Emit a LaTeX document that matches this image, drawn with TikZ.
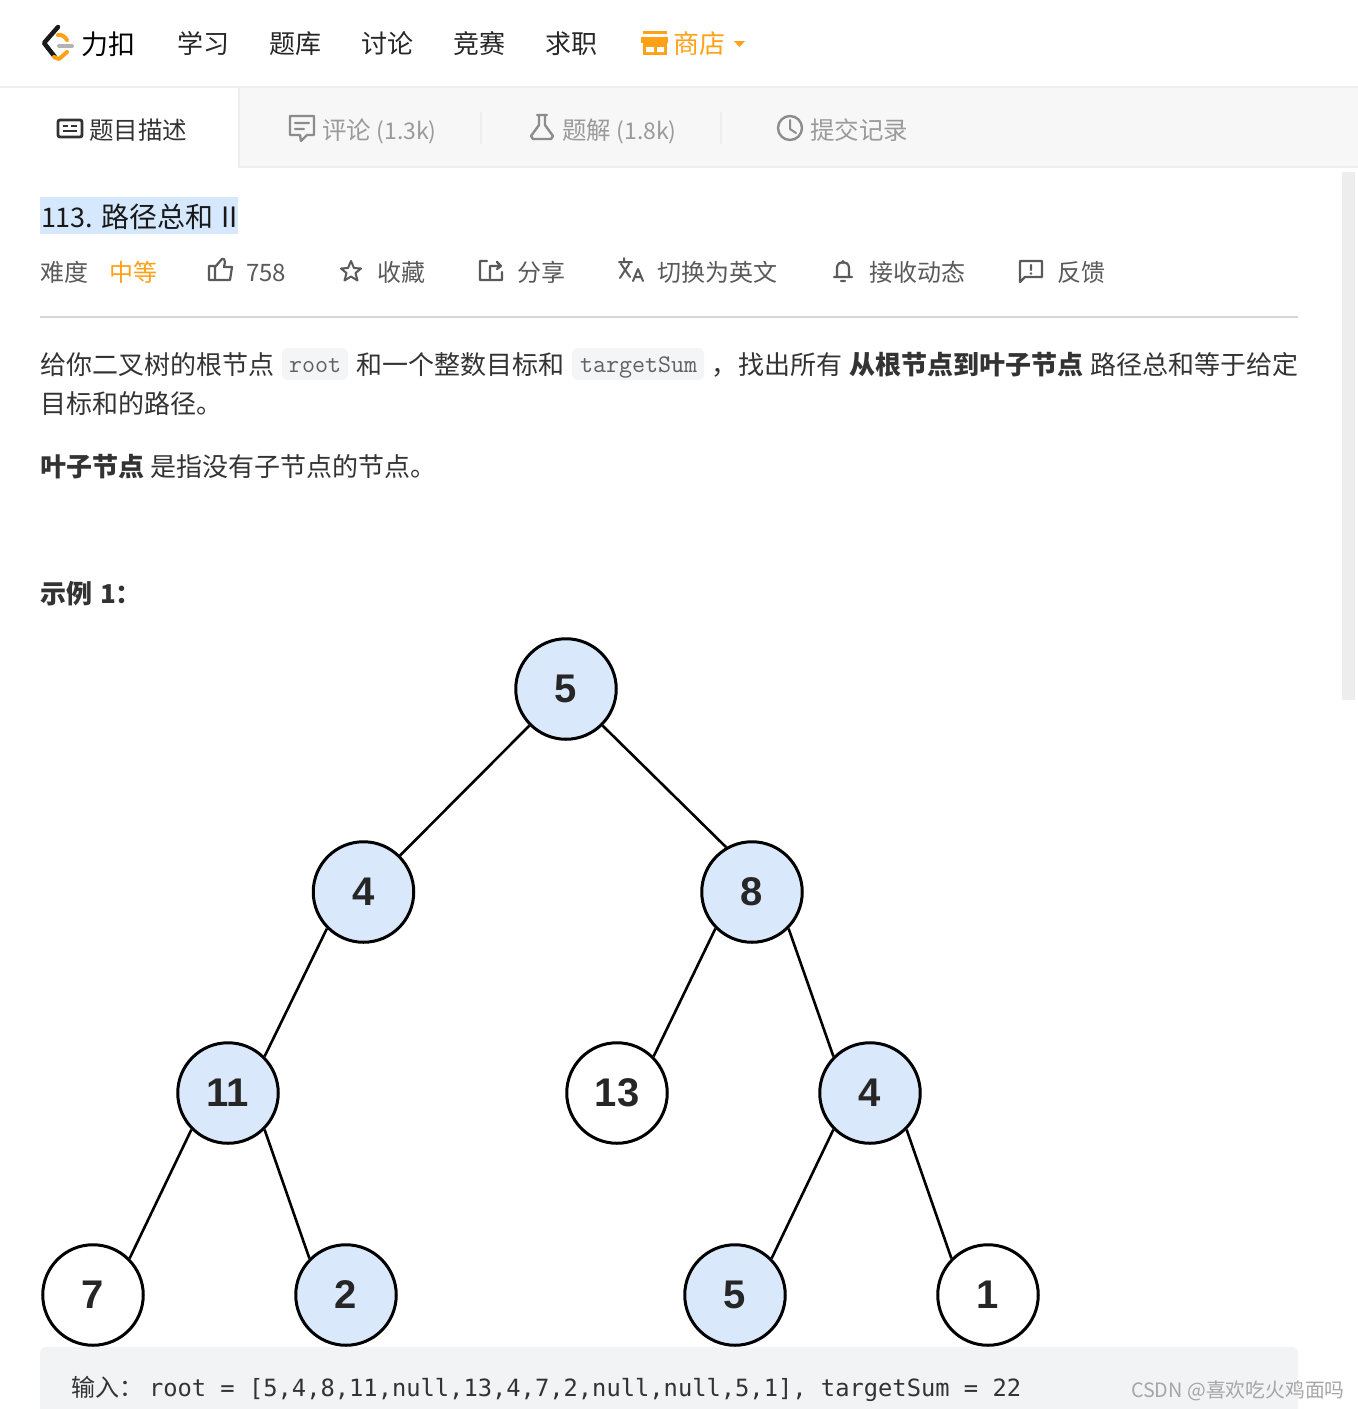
\documentclass[tikz,border=0pt]{standalone}
\usepackage{fontspec}
\setmainfont{Noto Sans CJK SC}
\newfontfamily\codef{DejaVu Sans Mono}
\newfontfamily\digf{Liberation Sans}
\definecolor{txtdark}{HTML}{333333}
\definecolor{txtmid}{HTML}{5A5A5A}
\definecolor{txtgray}{HTML}{9A9A9A}
\definecolor{icongray}{HTML}{8C8C8C}
\definecolor{brandorange}{HTML}{FFA116}
\definecolor{nodeblue}{HTML}{DAE8FC}
\definecolor{selblue}{HTML}{D5E8FD}
\definecolor{tabbg}{HTML}{F7F7F7}
\definecolor{rulegray}{HTML}{EEEEEE}
\definecolor{codebg}{HTML}{F2F3F5}
\definecolor{inlinebg}{HTML}{F4F5F7}
\definecolor{barcol}{HTML}{EDEDED}
\newcommand{\fsz}[1]{\fontsize{#1}{#1}\selectfont}
\tikzset{
 lab/.style={anchor=base west,inner sep=0pt,outer sep=0pt},
 nav/.style={lab,font=\fsz{26},text=black!85},
 tabon/.style={lab,font=\fsz{24.5},text=txtdark},
 taboff/.style={lab,font=\fsz{24.5},text=txtgray},
 meta/.style={lab,font=\fsz{24},text=txtmid},
 body/.style={lab,font=\fsz{26},text=txtdark},
 bodyb/.style={lab,font=\fsz{26}\bfseries,text=txtdark},
 inl/.style={lab,font=\ttfamily\fsz{25.3},text=black!62},
 tree/.style={circle,draw=black,line width=3pt,minimum size=100.5pt,inner sep=0pt,font=\digf\bfseries\fsz{40},text=black!85},
 bluen/.style={tree,fill=nodeblue},
 whiten/.style={tree,fill=white},
 edge/.style={draw=black,line width=2.6pt},
 ico/.style={draw=icongray,line width=2.4pt,line join=round,line cap=round},
 icod/.style={draw=txtmid,line width=2.2pt,line join=round,line cap=round},
}
\begin{document}
\begin{tikzpicture}[x=1pt,y=-1pt]
\useasboundingbox (0,0) rectangle (1358,1409);
\fill[white] (0,0) rectangle (1358,1409);
% tab bar
\fill[tabbg] (240,88) rectangle (1358,167);
\draw[rulegray,line width=2pt] (0,87) -- (1358,87);
\draw[rulegray,line width=2pt] (239,87) -- (239,167) -- (1358,167);
\draw[rulegray,line width=1.5pt] (481,112) -- (481,144) (721,112) -- (721,144);
\fill[barcol] (1342,172) rectangle (1355,700);
% logo
\draw[black!90,line width=4.5pt,line join=round,line cap=round] (58,27) -- (44,43) -- (55,57);
\draw[brandorange,line width=4pt,line join=round,line cap=round] (58,35) .. controls (62,34) and (65,37) .. (67,40) (67,52) -- (59,59) -- (54,57);
\draw[black!30,line width=4pt,line cap=round] (59,46) -- (72,46);
\node[lab,font=\fsz{27},text=black] (brand) at (81,54) {力扣};
% nav
\node[nav] (n1) at (177,53.5) {学习};
\node[nav] (n2) at (269,53.5) {题库};
\node[nav] (n3) at (361,53.5) {讨论};
\node[nav] (n4) at (453,53.5) {竞赛};
\node[nav] (n5) at (545,53.5) {求职};
\node[nav,text=brandorange] (n6) at (673,53.5) {商店};
\fill[brandorange] (643,31) rectangle (667,34);
\fill[brandorange] (641,37) rectangle (668,43);
\fill[brandorange] (643,43) rectangle (667,55);
\fill[white] (646,47) rectangle (654,52) (657,47) rectangle (664,52);
\fill[brandorange] (734,41) -- (745,41) -- (739.5,47) -- cycle;
% tabs
\draw[black!80,line width=2.8pt,rounded corners=2pt] (58,120) rectangle (82,137);
\draw[black!80,line width=2pt] (63,126) -- (68,126) (71,126) -- (77,126) (63,131) -- (77,131);
\node[tabon] (t1) at (89,139) {题目描述};
\draw[ico] (290,116) -- (314,116) -- (314,135) -- (307,135) -- (301,141) -- (300,135) -- (290,135) -- cycle (295,123) -- (309,123) (295,129) -- (304,129);
\node[taboff] (t2) at (322,139) {评论 \fsz{23}(1.3k)};
\draw[ico] (537,115) -- (547,115) (539,116) -- (539,125) -- (531,136) -- (533,139) -- (551,139) -- (553,136) -- (545,125) -- (545,116);
\node[taboff] (t3) at (562,139) {题解 \fsz{23}(1.8k)};
\draw[ico] (790,128) circle (12);
\draw[ico,line width=2pt] (790,120) -- (790,129) -- (796,133);
\node[taboff] (t4) at (810,139) {提交记录};
% title
\fill[selblue] (40,197) rectangle (238,234);
\node[lab,font=\fsz{28},text=black!90] (title) at (41,227) {\fsz{27}113. \fsz{28}路径总和\hspace{2pt} II};
% meta
\node[meta] (m1) at (40,281) {难度};
\node[meta,text=brandorange] (m2) at (109,281) {中等};
\draw[icod] (209,266) rectangle (215,280) (215,267) -- (222,259) -- (224,259) -- (225,262) -- (224,267) -- (232,267) -- (230,280) -- (215,280);
\node[meta] (m3) at (246,281) {758};
\draw[icod,line width=2pt] (351,261) -- (354,268) -- (361,268.5) -- (355.5,273) -- (357.5,280.5) -- (351,276.5) -- (344.5,280.5) -- (346.5,273) -- (341,268.5) -- (348,268) -- cycle;
\node[meta] (m4) at (377,281) {收藏};
\draw[icod] (487,261) -- (480,261) -- (480,280) -- (502,280) -- (502,272) (490,278) -- (490,266) -- (500,266) (497,262) -- (501,266) -- (497,269);
\node[meta] (m5) at (517,281) {分享};
\draw[icod,line width=2pt] (619,262) -- (632,262) (624,258) -- (624,262) (621,264) -- (630,277) (629,264) -- (620,278) (633,281) -- (638,269) -- (643,281) (635,277) -- (641,277);
\node[meta] (m6) at (657,281) {切换为英文};
\draw[icod] (843,261) -- (843,263) (837,276) -- (837,268) .. controls (837,260) and (849,260) .. (849,268) -- (849,276) (834,277) -- (852,277) (841,281) -- (845,281);
\node[meta] (m7) at (869,281) {接收动态};
\draw[icod] (1020,282) -- (1020,261) -- (1042,261) -- (1042,277) -- (1025,277) -- cycle (1031,265) -- (1031,270);
\fill[txtmid] (1031,273.5) circle (1.3);
\node[meta] (m8) at (1057,281) {反馈};
\draw[rulegray!90!black,line width=1.8pt] (40,317) -- (1298,317);
% paragraph
\node[body] (p1) at (40,374) {给你二叉树的根节点};
\fill[inlinebg,rounded corners=5pt] (282,348) rectangle (348,380);
\node[inl] (c1) at (289,372) {root};
\node[body] (p2) at (356,374) {和一个整数目标和};
\fill[inlinebg,rounded corners=5pt] (572,348) rectangle (704,380);
\node[inl] (c2) at (580,372) {targetSum};
\node[body] (p3) at (711,374) {，};
\node[body] (p4) at (738,374) {找出所有};
\node[bodyb] (p5) at (849,374) {从根节点到叶子节点};
\node[body] (p6) at (1090,374) {路径总和等于给定};
\node[body] (p7) at (40,413) {目标和的路径。};
\node[bodyb] (q1) at (40,476) {叶子节点};
\node[body] (q2) at (150,476) {是指没有子节点的节点。};
\node[bodyb] (ex) at (40,603) {示例};
\node[bodyb] (exn) at (100,603) {1：};
% tree
\node[bluen] (a) at (566,689) {5};
\node[bluen] (b) at (363.5,892) {4};
\node[bluen] (c) at (752,892) {8};
\node[bluen] (d) at (228,1093) {11};
\node[whiten] (e) at (617,1093) {13};
\node[bluen] (f) at (870,1093) {4};
\node[whiten] (g) at (93,1295) {7};
\node[bluen] (h) at (346,1295) {2};
\node[bluen] (i) at (735,1295) {5};
\node[whiten] (j) at (988,1295) {1};
\draw[edge] (a.225) -- (b.45);
\draw[edge] (a.-45) -- (c.120);
\draw[edge] (b.225) -- (d.45);
\draw[edge] (c.225) -- (e.45);
\draw[edge] (c.-45) -- (f.135);
\draw[edge] (d.225) -- (g.45);
\draw[edge] (d.-45) -- (h.135);
\draw[edge] (f.225) -- (i.45);
\draw[edge] (f.-45) -- (j.135);
% code block
\fill[codebg,rounded corners=5pt] (40,1347) rectangle (1298,1425);
\node[lab,font=\fsz{24},text=txtdark] (in) at (71,1396) {输入：};
\node[lab,font=\codef\fsz{23.75},text=txtdark] (code) at (149,1396) {root = [5,4,8,11,null,13,4,7,2,null,null,5,1], targetSum = 22};
\node[lab,font=\fsz{19.8},text=black!35] (wm) at (1131,1397) {CSDN @喜欢吃火鸡面吗};
\end{tikzpicture}
\end{document}
